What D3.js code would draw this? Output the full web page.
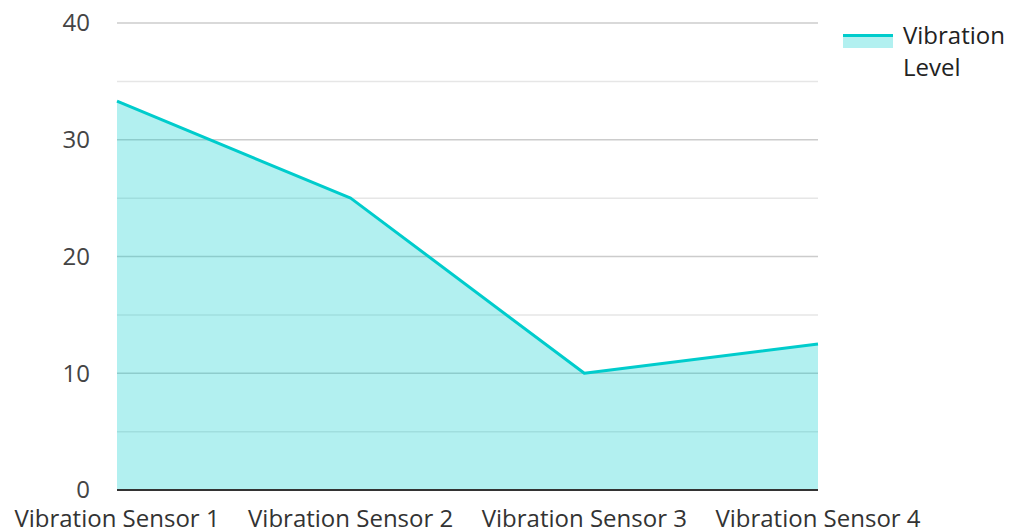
<!DOCTYPE html>
<html>
<head>
<meta charset="utf-8">
<script src="https://cdn.jsdelivr.net/npm/d3@7"></script>
<style>
  body { margin: 0; background: #fff; }
  text { font-family: 'Open Sans', 'Noto Sans', sans-serif; }
</style>
</head>
<body>
<svg id="chart" width="1010" height="531"></svg>
<script>
const categories = ['Vibration Sensor 1', 'Vibration Sensor 2', 'Vibration Sensor 3', 'Vibration Sensor 4']
const vibration = [33.3, 25, 10, 12.5]
const yTicks = [0, 10, 20, 30, 40]
const yMinorTicks = [5, 15, 25, 35]
const seriesName = ['Vibration', 'Level']

const lineColor = '#00cccc'
const margin = { top: 23, right: 192, bottom: 41, left: 117 }
const width = 1010
const height = 531
const innerW = width - margin.left - margin.right
const innerH = height - margin.top - margin.bottom

const svg = d3.select('#chart')
const g = svg.append('g').attr('transform', `translate(${margin.left},${margin.top})`)

const x = d3.scalePoint().domain(categories).range([0, innerW])
const y = d3.scaleLinear().domain([0, 40]).range([innerH, 0])

// gridlines
g.selectAll('line.minor')
  .data(yMinorTicks)
  .enter().append('line')
  .attr('class', 'minor')
  .attr('x1', 0).attr('x2', innerW)
  .attr('y1', d => y(d)).attr('y2', d => y(d))
  .attr('stroke', '#e6e6e6').attr('stroke-width', 1.5)

g.selectAll('line.major')
  .data(yTicks.filter(d => d > 0))
  .enter().append('line')
  .attr('class', 'major')
  .attr('x1', 0).attr('x2', innerW)
  .attr('y1', d => y(d)).attr('y2', d => y(d))
  .attr('stroke', '#cccccc').attr('stroke-width', 1.5)

const pts = categories.map((c, i) => [x(c), y(vibration[i])])

const area = d3.area().x(d => d[0]).y0(y(0)).y1(d => d[1])
g.append('path')
  .attr('d', area(pts))
  .attr('fill', lineColor)
  .attr('fill-opacity', 0.3)

g.append('path')
  .attr('d', d3.line()(pts))
  .attr('fill', 'none')
  .attr('stroke', lineColor)
  .attr('stroke-width', 3)
  .attr('stroke-linejoin', 'round')

// baseline
g.append('line')
  .attr('x1', 0).attr('x2', innerW)
  .attr('y1', y(0)).attr('y2', y(0))
  .attr('stroke', '#333').attr('stroke-width', 2)

// y labels
g.selectAll('text.ylab')
  .data(yTicks)
  .enter().append('text')
  .attr('class', 'ylab')
  .attr('x', -27)
  .attr('y', d => y(d))
  .attr('dy', '0.35em')
  .attr('text-anchor', 'end')
  .attr('font-size', 24)
  .attr('fill', '#444')
  .text(d => d)

// x labels
g.selectAll('text.xlab')
  .data(categories)
  .enter().append('text')
  .attr('class', 'xlab')
  .attr('x', d => x(d))
  .attr('y', innerH + 37)
  .attr('text-anchor', 'middle')
  .attr('font-size', 24)
  .attr('fill', '#333')
  .text(d => d)

// legend
const lg = svg.append('g').attr('transform', 'translate(843,34)')
lg.append('rect').attr('x', 0).attr('y', 0).attr('width', 50).attr('height', 14)
  .attr('fill', lineColor).attr('fill-opacity', 0.3)
lg.append('line').attr('x1', 0).attr('x2', 50).attr('y1', 1.5).attr('y2', 1.5)
  .attr('stroke', lineColor).attr('stroke-width', 3)
lg.selectAll('text')
  .data(seriesName)
  .enter().append('text')
  .attr('x', 60)
  .attr('y', (d, i) => 10 + i * 32)
  .attr('font-size', 24)
  .attr('fill', '#222')
  .text(d => d)
</script>
</body>
</html>
